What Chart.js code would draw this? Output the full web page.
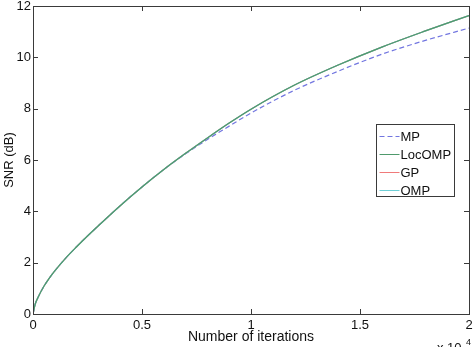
<!DOCTYPE html>
<html>
<head>
<meta charset="utf-8">
<script src="https://cdn.jsdelivr.net/npm/chart.js@4"></script>
<style>
  html, body { margin: 0; padding: 0; background: #fff; }
  canvas { display: block; }
</style>
</head>
<body>
<canvas id="snrChart" width="474" height="347"></canvas>
<script>
// values
const iterations = [0, 100, 250, 500, 750, 1000, 1500, 2000, 2500, 3000, 4000, 5000, 6000, 7000, 8000, 9000, 10000, 12000, 14000, 16000, 18000, 20000];
const snrMP      = [0, 0.38, 0.68, 1.08, 1.4, 1.68, 2.18, 2.62, 3.04, 3.44, 4.22, 4.95, 5.63, 6.24, 6.8, 7.32, 7.83, 8.72, 9.46, 10.12, 10.66, 11.14];
const snrLocOMP  = [0, 0.38, 0.68, 1.08, 1.4, 1.68, 2.18, 2.62, 3.04, 3.44, 4.22, 4.95, 5.63, 6.26, 6.86, 7.44, 7.98, 8.92, 9.7, 10.4, 11.03, 11.63];
const snrGP      = [0, 0.38, 0.68, 1.08, 1.4, 1.68, 2.18, 2.62, 3.04, 3.44, 4.22, 4.95, 5.63, 6.26, 6.86, 7.44, 7.98, 8.92, 9.7, 10.4, 11.03, 11.63];
const snrOMP     = [0, 0.38, 0.68, 1.08, 1.4, 1.68, 2.18, 2.62, 3.04, 3.44, 4.22, 4.95, 5.63, 6.26, 6.86, 7.44, 7.98, 8.92, 9.7, 10.4, 11.03, 11.63];
const xTicks = [0, 5000, 10000, 15000, 20000];
const yTicks = [0, 2, 4, 6, 8, 10, 12];

const FONT = "'Liberation Sans', Arial, Helvetica, sans-serif";
const AXIS = "#3a3a3a";

function pts(ys) {
    return iterations.map((x, i) => ({ x: x, y: ys[i] }));
}

// box + inward ticks like matlab
const boxPlugin = {
    id: "boxTicks",
    afterDraw(chart) {
        const ctx = chart.ctx;
        const a = chart.chartArea;
        const xs = chart.scales.x, ys = chart.scales.y;
        ctx.save();
        ctx.strokeStyle = AXIS;
        ctx.lineWidth = 1;
        ctx.strokeRect(Math.round(a.left) + 0.5, Math.round(a.top) + 0.5,
            Math.round(a.right - a.left), Math.round(a.bottom - a.top));
        ctx.beginPath();
        xTicks.forEach(v => {
            const px = Math.round(xs.getPixelForValue(v)) + 0.5;
            ctx.moveTo(px, a.bottom); ctx.lineTo(px, a.bottom - 5);
            ctx.moveTo(px, a.top); ctx.lineTo(px, a.top + 5);
        });
        yTicks.forEach(v => {
            const py = Math.round(ys.getPixelForValue(v)) + 0.5;
            ctx.moveTo(a.left, py); ctx.lineTo(a.left + 5, py);
            ctx.moveTo(a.right, py); ctx.lineTo(a.right - 5, py);
        });
        ctx.stroke();

        // x 10^4 multiplier, cut by the bottom edge as in the original
        ctx.fillStyle = "#111";
        ctx.textBaseline = "alphabetic";
        ctx.font = "13px " + FONT;
        ctx.fillText("x 10", 437, 352);
        ctx.font = "9px " + FONT;
        ctx.fillText("4", 466, 345);

        // legend
        const lx = 376.5, ly = 124.5, lw = 78, lh = 72;
        ctx.fillStyle = "#fff";
        ctx.fillRect(lx, ly, lw, lh);
        ctx.strokeStyle = AXIS;
        ctx.strokeRect(lx, ly, lw, lh);
        ctx.font = "13px " + FONT;
        ctx.textBaseline = "middle";
        chart.data.datasets.slice().sort((p, q) => p.order2 - q.order2).forEach((ds, i) => {
            const y = Math.round(ly + 11 + i * 18) + 0.5;
            ctx.strokeStyle = ds.borderColor;
            ctx.lineWidth = 1;
            ctx.setLineDash(ds.borderDash || []);
            ctx.beginPath();
            ctx.moveTo(lx + 3, y); ctx.lineTo(lx + 23, y);
            ctx.stroke();
            ctx.setLineDash([]);
            ctx.fillStyle = "#111";
            ctx.fillText(ds.label, lx + 24, y + 1);
        });
        ctx.restore();
    }
};

const ctx = document.getElementById("snrChart").getContext("2d");
new Chart(ctx, {
    type: "line",
    data: {
        datasets: [
            { label: "MP", data: pts(snrMP), borderColor: "#7276e0", borderDash: [5, 3], order: 4, order2: 0 },
            { label: "LocOMP", data: pts(snrLocOMP), borderColor: "#4f9a6c", order: 1, order2: 1 },
            { label: "GP", data: pts(snrGP), borderColor: "#f07a7a", order: 3, order2: 2 },
            { label: "OMP", data: pts(snrOMP), borderColor: "#6fcfd6", order: 2, order2: 3 }
        ]
    },
    options: {
        responsive: false,
        animation: false,
        devicePixelRatio: 1,
        layout: { padding: { top: 6, right: 5, left: 0, bottom: 0 } },
        elements: {
            point: { radius: 0 },
            line: { borderWidth: 1.2, cubicInterpolationMode: "monotone", fill: false }
        },
        plugins: {
            legend: { display: false },
            tooltip: { enabled: false }
        },
        scales: {
            x: {
                type: "linear",
                min: 0,
                max: 20000,
                afterBuildTicks: s => { s.ticks = xTicks.map(v => ({ value: v })); },
                afterFit: s => { s.height = 33; s.paddingLeft = 0; s.paddingRight = 0; },
                grid: { display: false, drawTicks: false },
                border: { display: false },
                ticks: {
                    padding: 4,
                    maxRotation: 0,
                    autoSkip: false,
                    color: "#111",
                    font: { family: FONT, size: 13 },
                    callback: v => String(v / 10000)
                },
                title: {
                    display: true,
                    text: "Number of iterations",
                    color: "#111",
                    padding: { top: 0, bottom: 1 },
                    font: { family: FONT, size: 14 }
                }
            },
            y: {
                min: 0,
                max: 12,
                afterBuildTicks: s => { s.ticks = yTicks.map(v => ({ value: v })); },
                afterFit: s => { s.width = 33; s.paddingTop = 0; s.paddingBottom = 0; },
                grid: { display: false, drawTicks: false },
                border: { display: false },
                ticks: {
                    padding: 2,
                    autoSkip: false,
                    color: "#111",
                    font: { family: FONT, size: 13 }
                },
                title: {
                    display: true,
                    text: "SNR (dB)",
                    color: "#111",
                    padding: { top: 2, bottom: 0 },
                    font: { family: FONT, size: 13 }
                }
            }
        }
    },
    plugins: [boxPlugin]
});
</script>
</body>
</html>
